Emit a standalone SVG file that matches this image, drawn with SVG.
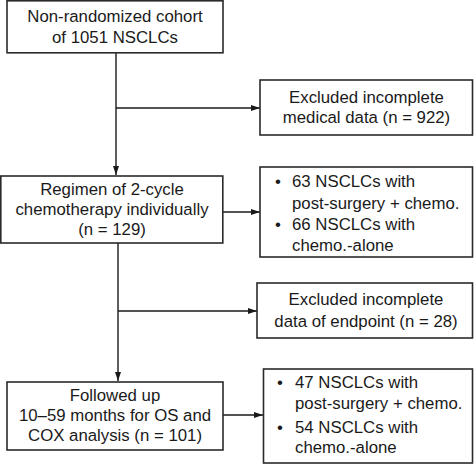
<svg xmlns="http://www.w3.org/2000/svg" width="474" height="464" viewBox="0 0 474 464">
<defs>
<marker id="ah" markerWidth="9" markerHeight="6" refX="9" refY="3" orient="auto" markerUnits="userSpaceOnUse">
<path d="M0,0 L9,3 L0,6 Z" fill="#1a1a1a"/>
</marker>
<style>
.box{fill:#fff;stroke:#2a2a2a;stroke-width:1.6}
.t{font-family:"Liberation Sans",Arial,Helvetica,sans-serif;font-size:16.8px;fill:#1a1a1a}
.c{text-anchor:middle}
.ln{fill:none;stroke:#1a1a1a;stroke-width:1.4}
</style>
</defs>
<rect width="474" height="464" fill="#fff"/>
<g id="connectors">
<path class="ln" d="M116,53 V175" marker-end="url(#ah)"/>
<path class="ln" d="M116,108 H260" marker-end="url(#ah)"/>
<path class="ln" d="M223,212 H260" marker-end="url(#ah)"/>
<path class="ln" d="M118,243 V381" marker-end="url(#ah)"/>
<path class="ln" d="M118,311 H257" marker-end="url(#ah)"/>
<path class="ln" d="M223,415 H263" marker-end="url(#ah)"/>
</g>
<g id="cohort">
<rect class="box" x="7" y="0.8" width="216" height="52"/>
<text class="t c" x="115" y="22.3">Non-randomized cohort</text>
<text class="t c" x="115" y="42.5">of 1051 NSCLCs</text>
</g>
<g id="excluded1">
<rect class="box" x="260" y="80" width="212.5" height="55"/>
<text class="t c" x="366.5" y="102.7">Excluded incomplete</text>
<text class="t c" x="366.5" y="123.3">medical data (n = 922)</text>
</g>
<g id="regimen">
<rect class="box" x="0.8" y="176" width="222" height="67"/>
<text class="t c" x="112" y="195">Regimen of 2-cycle</text>
<text class="t c" x="112" y="215">chemotherapy individually</text>
<text class="t c" x="112" y="235">(n = 129)</text>
</g>
<g id="groups1">
<rect class="box" x="260" y="167" width="212.5" height="90"/>
<text class="t" x="275" y="187">•</text>
<text class="t" x="292" y="187">63 NSCLCs with</text>
<text class="t" x="292" y="208.5">post-surgery + chemo.</text>
<text class="t" x="275" y="230">•</text>
<text class="t" x="292" y="230">66 NSCLCs with</text>
<text class="t" x="292" y="251">chemo.-alone</text>
</g>
<g id="excluded2">
<rect class="box" x="257" y="283" width="215.5" height="55"/>
<text class="t c" x="366" y="305">Excluded incomplete</text>
<text class="t c" x="366" y="327">data of endpoint (n = 28)</text>
</g>
<g id="followed">
<rect class="box" x="7" y="382" width="216" height="68"/>
<text class="t c" x="115" y="401">Followed up</text>
<text class="t c" x="115" y="421">10–59 months for OS and</text>
<text class="t c" x="115" y="441">COX analysis (n = 101)</text>
</g>
<g id="groups2">
<rect class="box" x="263.5" y="369" width="209" height="94"/>
<text class="t" x="277" y="388">•</text>
<text class="t" x="295" y="388">47 NSCLCs with</text>
<text class="t" x="295" y="409">post-surgery + chemo.</text>
<text class="t" x="277" y="433">•</text>
<text class="t" x="295" y="433">54 NSCLCs with</text>
<text class="t" x="295" y="453">chemo.-alone</text>
</g>
</svg>
